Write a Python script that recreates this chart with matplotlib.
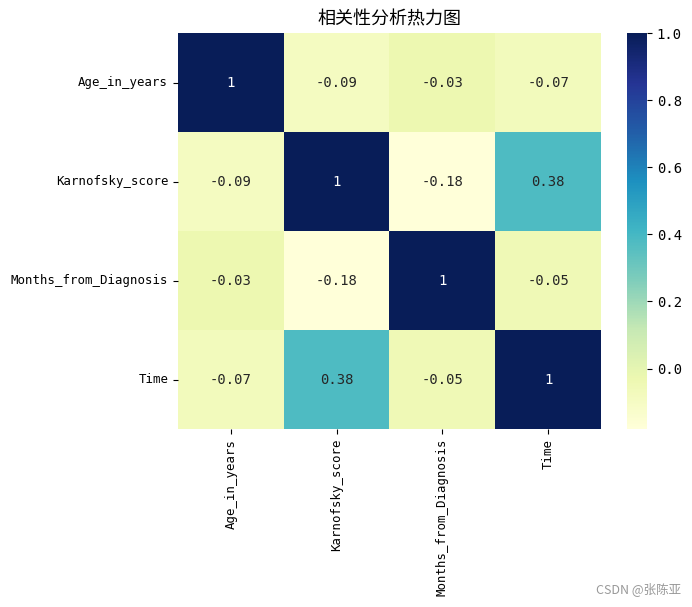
import numpy as np
import pandas as pd
import matplotlib
matplotlib.use("Agg")
import matplotlib.pyplot as plt
import seaborn as sns

labels = ["Age_in_years", "Karnofsky_score", "Months_from_Diagnosis", "Time"]
row_age = [1.00, -0.09, -0.03, -0.07]
row_karnofsky = [-0.09, 1.00, -0.18, 0.38]
row_months = [-0.03, -0.18, 1.00, -0.05]
row_time = [-0.07, 0.38, -0.05, 1.00]

corr = pd.DataFrame([row_age, row_karnofsky, row_months, row_time],
                    index=labels, columns=labels)

plt.rcParams['font.family'] = ['DejaVu Sans Mono', 'Noto Sans CJK SC']
plt.rcParams['axes.unicode_minus'] = False

fig = plt.figure(figsize=(6.92, 6.07), dpi=100)
ax = fig.add_axes([0.2572, 0.2932, 0.6113, 0.6524])
cax = fig.add_axes([0.906, 0.2932, 0.0289, 0.6524])

sns.heatmap(corr, annot=True, cmap="YlGnBu", ax=ax, cbar_ax=cax,
            annot_kws={"fontsize": 10})
ax.set_title("相关性分析热力图", fontsize=13, family=['Noto Sans CJK SC'], pad=6)
ax.tick_params(axis='both', labelsize=8.9)
ax.set_xticklabels(ax.get_xticklabels(), rotation=90)
ax.set_yticklabels(ax.get_yticklabels(), rotation=0)
cax.tick_params(labelsize=10)

fig.text(0.985, 0.018, "CSDN @张陈亚", ha='right', va='bottom', fontsize=9,
         color='#999999', family=['Noto Sans CJK SC', 'DejaVu Sans'])

fig.savefig("out.png", dpi=100)
